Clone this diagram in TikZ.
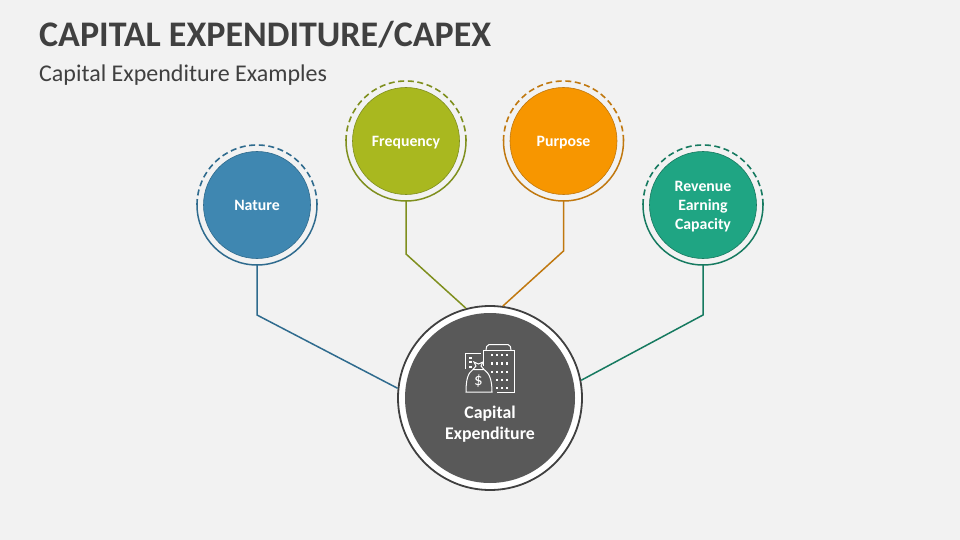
\documentclass[tikz,border=0pt]{standalone}
\usepackage{fontspec}
\setmainfont{Carlito}
\usetikzlibrary{positioning}
\definecolor{pagegray}{HTML}{F2F2F2}
\definecolor{titlegray}{HTML}{404040}
\definecolor{hubgray}{HTML}{595959}
\definecolor{naturefill}{HTML}{3F87B1}
\definecolor{natureline}{HTML}{2F6B8E}
\definecolor{freqfill}{HTML}{A9B81F}
\definecolor{freqline}{HTML}{7F8F1E}
\definecolor{purposefill}{HTML}{F79600}
\definecolor{purposeline}{HTML}{C0780F}
\definecolor{revenuefill}{HTML}{1FA583}
\definecolor{revenueline}{HTML}{167A60}
\tikzset{
  disc/.style={circle, draw=#1, line width=.6pt, minimum size=107pt, inner sep=0pt, align=center,
    text=white, text depth=0pt, font=\fontsize{15.8}{19}\selectfont\bfseries},
  ring/.style={circle, minimum size=120pt, inner sep=0pt, outer sep=0pt},
  wire/.style={line width=1.5pt},
  halfdash/.style={line width=1.6pt, dash pattern=on 6pt off 3.6pt},
  iconline/.style={draw=white, line width=1pt},
  windows/.style={fill=white}
}
\begin{document}
\begin{tikzpicture}[x=1pt, y=-1pt]
\useasboundingbox[fill=pagegray] (0,0) rectangle (960,540);
\node[anchor=west, inner sep=0pt, text=titlegray, font=\fontsize{36}{40}\selectfont\bfseries] (title) at (39,35) {CAPITAL EXPENDITURE/CAPEX};
\node[anchor=west, inner sep=0pt, text=titlegray, font=\fontsize{24}{28}\selectfont] (subtitle) at (39,75) {Capital Expenditure Examples};

% outer rings
\node[ring] (naturering) at (257,205) {};
\node[ring] (freqring) at (406,141) {};
\node[ring] (purposering) at (563.5,141) {};
\node[ring] (revenuering) at (703,205) {};
\node[circle, draw=titlegray, fill=white, line width=1.8pt, minimum size=184pt, inner sep=0pt] (hubring) at (490,398) {};

% discs
\node[disc=natureline, fill=naturefill] (nature) at (naturering) {Nature};
\node[disc=freqline, fill=freqfill] (freq) at (freqring) {Frequency};
\node[disc=purposeline, fill=purposefill] (purpose) at (purposering) {Purpose};
\node[disc=revenueline, fill=revenuefill] (revenue) at (revenuering) {Revenue\\Earning\\Capacity};
\node[circle, fill=hubgray, minimum size=170pt, inner sep=0pt] (hub) at (hubring) {};
\node[text=white, align=center, font=\fontsize{17.8}{21}\selectfont\bfseries] (hubtext) at (490,424) {Capital\\Expenditure};

% half rings
\draw[natureline, wire] (naturering.west) arc[start angle=180, end angle=0, radius=60];
\draw[natureline, halfdash] (naturering.west) arc[start angle=180, end angle=360, radius=60];
\draw[freqline, wire] (freqring.west) arc[start angle=180, end angle=0, radius=60];
\draw[freqline, halfdash] (freqring.west) arc[start angle=180, end angle=360, radius=60];
\draw[purposeline, wire] (purposering.west) arc[start angle=180, end angle=0, radius=60];
\draw[purposeline, halfdash] (purposering.west) arc[start angle=180, end angle=360, radius=60];
\draw[revenueline, wire] (revenuering.west) arc[start angle=180, end angle=0, radius=60];
\draw[revenueline, halfdash] (revenuering.west) arc[start angle=180, end angle=360, radius=60];

% connectors
\coordinate (natureknee) at (257,315);
\coordinate (freqknee) at (406,254);
\coordinate (purposeknee) at (563.5,251);
\coordinate (revenueknee) at (703,315);
\draw[natureline, wire] (naturering.south) -- (natureknee) -- (hubring.174);
\draw[freqline, wire] (freqring.south) -- (freqknee) -- (hubring.105);
\draw[purposeline, wire] (purposering.south) -- (purposeknee) -- (hubring.82);
\draw[revenueline, wire] (revenuering.south) -- (revenueknee) -- (hubring.11);

% icon
\draw[iconline] (465.5,369) -- (465.5,353) -- (481,353);
\draw[iconline] (483,366) -- (483,350) -- (514,350) -- (514,392) -- (497,392);
\draw[iconline, rounded corners=2pt] (486,350) -- (487,344.5) -- (510,344.5) -- (511,350);
\draw[iconline] (473,369.5) .. controls (468,373) and (466,379) .. (466,392) -- (492,392) .. controls (492,379) and (489,373) .. (484,369.5) -- cycle;
\draw[iconline] (473,369.5) -- (476,366) -- (474,362) -- (478.5,364) -- (483,362) -- (481,366) -- (484,369.5);
\node[text=white, inner sep=0pt, font=\fontsize{17}{17}\selectfont] (dollar) at (478.5,381.5) {\$};
\foreach \px in {491.7,496.7,501.7,506.7}
  \foreach \py in {355,363.5,372}
    \fill[windows] (\px-1,\py-1.3) rectangle (\px+1,\py+1.3);
\foreach \px in {496.7,501.7,506.7}
  \foreach \py in {380,388}
    \fill[windows] (\px-1,\py-1.3) rectangle (\px+1,\py+1.3);
\foreach \py in {357.5,362,366.5}
  \fill[windows] (469,\py-1) rectangle (472,\py+1);
\end{tikzpicture}
\end{document}
